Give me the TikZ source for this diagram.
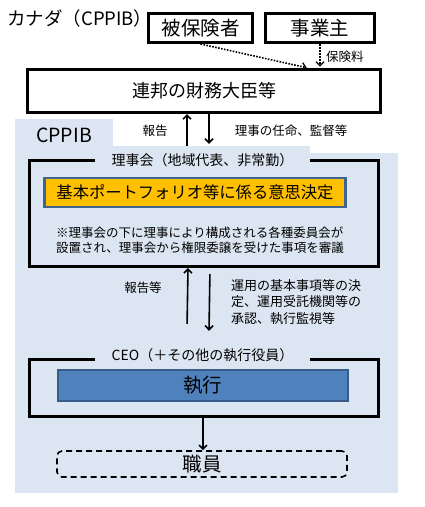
\documentclass[tikz,border=0pt]{standalone}
\usepackage{fontspec}
\setmainfont{Noto Sans CJK JP}
\usetikzlibrary{arrows.meta}
\definecolor{bgblue}{HTML}{DCE6F2}
\definecolor{orangefill}{HTML}{FFC000}
\definecolor{navyline}{HTML}{41638F}
\definecolor{execfill}{HTML}{4F81BD}
\definecolor{execline}{HTML}{385D8A}
\tikzset{
  frame/.style={draw=black, line width=3pt, inner sep=0pt},
  topbox/.style={draw=black, line width=3pt, inner sep=0pt, font=\fontsize{19.5}{21}\selectfont},
  framelabel/.style={fill=bgblue, minimum width=215pt, minimum height=28pt, inner sep=0pt, font=\fontsize{14}{16}\selectfont},
  smalltext/.style={inner sep=0pt, font=\fontsize{12.5}{14.5}\selectfont},
  arr/.style={line width=1.6pt, -{Straight Barb[length=4pt,width=8pt,line width=1.6pt]}},
  dotarr/.style={line width=1.6pt, dash pattern=on 1.6pt off 1.4pt, -{Straight Barb[length=4pt,width=8pt,line width=1.3pt,sep]}},
}
\begin{document}
\begin{tikzpicture}[x=1pt,y=-1pt]
\useasboundingbox (0,0) rectangle (424,507);
% background of CPPIB
\fill[bgblue] (15,153) rectangle (398,493);
\fill[bgblue] (15,119) rectangle (113,153);
\node[inner sep=0pt, font=\fontsize{19.5}{21}\selectfont] (cppib) at (64,135) {CPPIB};

% title
\node[anchor=west, inner sep=0pt, font=\fontsize{18.5}{20}\selectfont] (title) at (7,18) {カナダ（CPPIB）};

% top boxes
\node[topbox, minimum width=104pt, minimum height=29pt] (insured) at (200.5,28) {被保険者};
\node[topbox, minimum width=109pt, minimum height=29pt] (employer) at (320,28) {事業主};
\node[frame, minimum width=353pt, minimum height=43pt, font=\fontsize{18}{19}\selectfont] (minister) at (204,91) {連邦の財務大臣等};

\draw[dotarr] (insured.south) -- ([xshift=104pt]minister.north);
\draw[dotarr] (employer.south) -- (employer.south |- minister.north);
\node[smalltext, anchor=west] (premium) at (326,57) {保険料};

% board frame
\node[frame, minimum width=349pt, minimum height=106pt] (board) at (203.5,213.5) {};
\node[framelabel] (boardlabel) at (202.5,160) {理事会（地域代表、非常勤）};
\node[draw=navyline, line width=2.5pt, fill=orangefill, minimum width=301pt, minimum height=29pt, inner sep=0pt, font=\fontsize{16.3}{18}\selectfont] (policy) at (195,192.5) {基本ポートフォリオ等に係る意思決定};
\node[smalltext, align=left] (note) at (200,240) {※理事会の下に理事により構成される各種委員会が\\設置され、理事会から権限委譲を受けた事項を審議};

% arrows between minister and board
\draw[arr] ([xshift=-15.5pt]boardlabel.north) -- ([xshift=-15.5pt]boardlabel.north |- minister.south);
\draw[arr] ([xshift=6.5pt]boardlabel.north |- minister.south) -- ([xshift=6.5pt,yshift=2pt]boardlabel.north);
\node[smalltext] (report1) at (155,131) {報告};
\node[smalltext] (appoint) at (291,131) {理事の任命、監督等};

% CEO frame
\node[frame, minimum width=349pt, minimum height=57pt] (ceo) at (203.5,387.5) {};
\node[framelabel] (ceolabel) at (202.5,355) {CEO（＋その他の執行役員）};
\node[draw=execline, line width=2pt, fill=execfill, minimum width=290pt, minimum height=31pt, inner sep=0pt, font=\fontsize{19.5}{21}\selectfont] (exec) at (202.5,385) {執行};

% arrows between board and CEO
\draw[arr, shorten <=5pt] ([xshift=-15.5pt,yshift=12pt]ceolabel.north) -- ([xshift=-15.5pt]board.south);
\draw[arr, shorten <=6pt] ([xshift=6.5pt]board.south) -- ([xshift=6.5pt,yshift=10pt]ceolabel.north);
\node[smalltext] (report2) at (143,288) {報告等};
\node[anchor=west, inner sep=0pt, align=left, font=\fontsize{13}{16.7}\selectfont] (decide) at (231,302) {運用の基本事項等の決\\定、運用受託機関等の\\承認、執行監視等};

% staff
\node[draw=black, line width=1.6pt, dash pattern=on 6pt off 4pt, rounded corners=5pt, minimum width=290pt, minimum height=26pt, inner sep=0pt, font=\fontsize{19.5}{21}\selectfont] (staff) at (202,464) {職員};
\draw[arr, line width=1.3pt] ([xshift=-0.5pt]ceo.south) -- ([xshift=-0.5pt]ceo.south |- staff.north);
\end{tikzpicture}
\end{document}
